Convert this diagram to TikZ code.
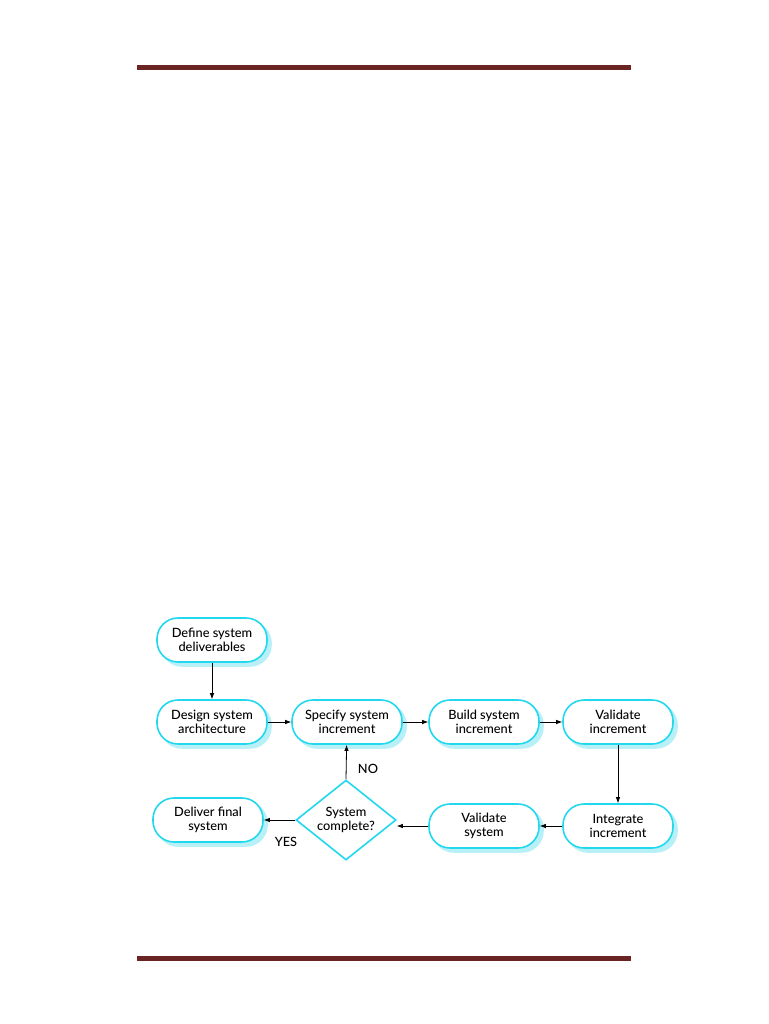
\documentclass[tikz,border=0pt]{standalone}
\usepackage{fontspec}
\setmainfont{Lato}[UprightFont=* Medium]
\usetikzlibrary{shapes.geometric,arrows.meta}
\definecolor{cy}{HTML}{22D8EE}
\definecolor{cyl}{HTML}{B8F0F8}
\definecolor{bar}{HTML}{6B2424}
\begin{document}
\begin{tikzpicture}[x=1pt,y=-1pt,
 box/.style={draw=cy,line width=1.6pt,fill=white,rounded corners=21pt,minimum width=110pt,minimum height=44pt,align=center,font=\fontsize{12.8}{14}\selectfont,inner sep=1pt,
   preaction={fill=cyl,draw=cyl,line width=1.6pt,transform canvas={shift={(4pt,-4pt)}}}},
 dia/.style={draw=cy,line width=1.6pt,fill=white,diamond,aspect=1.3,minimum width=100pt,minimum height=80pt,inner sep=0pt,align=center,font=\fontsize{12.8}{14}\selectfont},
 arr/.style={-{Latex[length=6pt,width=4.5pt]},line width=0.8pt}]
\useasboundingbox (0,0) rectangle (768,1024);
\fill[white] (0,0) rectangle (768,1024);
\draw[bar,line width=5pt] (137,68) -- (631,68);
\draw[bar,line width=5pt] (137,958) -- (631,958);
\node[box] (def) at (212,640) {Define system\\deliverables};
\node[box] (des) at (212,722) {Design system\\architecture};
\node[box] (spe) at (347,722) {Specify system\\increment};
\node[box] (bui) at (484,722) {Build system\\increment};
\node[box] (vin) at (618,722) {Validate\\increment};
\node[box] (int) at (618,826) {Integrate\\increment};
\node[box] (vsy) at (484,826) {Validate\\system};
\node[dia] (cmp) at (346,820) {System\\complete?};
\node[box] (del) at (208,820) {Deliver final\\system};
\draw[arr] (def) -- (des);
\draw[arr] (des) -- (spe);
\draw[arr] (spe) -- (bui);
\draw[arr] (bui) -- (vin);
\draw[arr] (vin) -- (int);
\draw[arr] (int) -- (vsy);
\draw[arr] (vsy.west) -- (cmp.east |- vsy.west);
\draw[arr] (cmp.north) -- (spe);
\draw[arr] (cmp.west) -- (del.east |- cmp.west);
\node[font=\fontsize{12.8}{14}\selectfont] (no) at (368,769) {NO};
\node[font=\fontsize{12.8}{14}\selectfont] (yes) at (286,842) {YES};
\end{tikzpicture}
\end{document}
